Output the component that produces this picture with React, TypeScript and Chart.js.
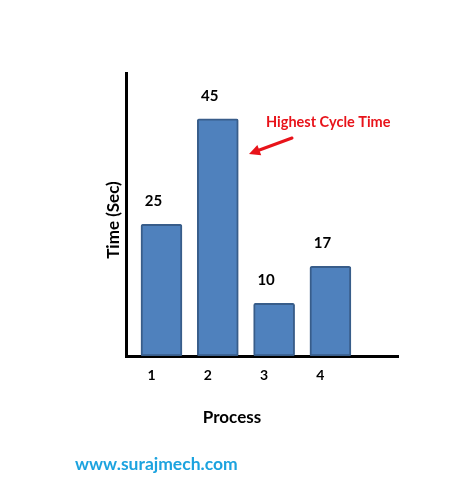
import React, { useEffect, useRef } from 'react';
import { Chart, registerables } from 'chart.js';

Chart.register(...registerables);

// ---- data ----
const processes = [1, 2, 3, 4];
const tickLabels = ['1', '2', '3', '4'];
const cycleTimes = [25, 45, 10, 17];
const yTitle = 'Time (Sec)';
const xTitle = 'Process';
const calloutText = 'Highest Cycle Time';
const websiteText = 'www.surajmech.com';

const FONT = 'Lato, "Open Sans", "DejaVu Sans", sans-serif';

export default function App() {
  const ref = useRef<HTMLCanvasElement>(null);

  useEffect(() => {
    document.body.style.margin = '0';
    const canvas = ref.current;
    if (!canvas) return;

    const overlay = {
      id: 'overlay',
      afterDatasetsDraw(chart: any) {
        const ctx = chart.ctx as CanvasRenderingContext2D;
        const meta = chart.getDatasetMeta(0);
        ctx.save();
        // value labels
        ctx.fillStyle = '#000';
        ctx.font = `bold 15px ${FONT}`;
        ctx.textAlign = 'center';
        ctx.textBaseline = 'middle';
        meta.data.forEach((el: any, i: number) => {
          ctx.fillText(String(cycleTimes[i]), el.x - 8, el.y - 23);
        });
        // y title
        ctx.save();
        ctx.translate(114, 220);
        ctx.rotate(-Math.PI / 2);
        ctx.font = `bold 17px ${FONT}`;
        ctx.fillText(yTitle, 0, 0);
        ctx.restore();
        // x title
        ctx.font = `bold 17px ${FONT}`;
        ctx.fillText(xTitle, 232, 418);
        // website
        ctx.fillStyle = '#1CA3DF';
        ctx.font = `bold 17.5px ${FONT}`;
        ctx.textAlign = 'left';
        ctx.fillText(websiteText, 75, 464);
        // callout
        ctx.fillStyle = '#E8131A';
        ctx.font = `bold 14.5px ${FONT}`;
        ctx.fillText(calloutText, 266, 122);
        // arrow
        const x1 = 292, y1 = 138, x2 = 249, y2 = 154;
        ctx.strokeStyle = '#E8131A';
        ctx.lineWidth = 3;
        ctx.lineCap = 'round';
        ctx.beginPath();
        ctx.moveTo(x1, y1);
        ctx.lineTo(x2 + 5, y2 - 2);
        ctx.stroke();
        const ang = Math.atan2(y2 - y1, x2 - x1);
        const hl = 11, hw = 5.5;
        ctx.beginPath();
        ctx.moveTo(x2, y2);
        ctx.lineTo(x2 - hl * Math.cos(ang) + hw * Math.sin(ang), y2 - hl * Math.sin(ang) - hw * Math.cos(ang));
        ctx.lineTo(x2 - hl * Math.cos(ang) - hw * Math.sin(ang), y2 - hl * Math.sin(ang) + hw * Math.cos(ang));
        ctx.closePath();
        ctx.fillStyle = '#E8131A';
        ctx.fill();
        ctx.restore();
      },
    };

    const chart = new Chart(canvas, {
      type: 'bar',
      data: {
        datasets: [
          {
            data: processes.map((p, i) => ({ x: p, y: cycleTimes[i] })),
            backgroundColor: '#4F81BD',
            borderColor: '#385D8A',
            borderWidth: 2,
            borderRadius: 2,
            borderSkipped: false,
            barThickness: 41,
          },
        ],
      },
      options: {
        responsive: false,
        animation: false,
        devicePixelRatio: 1,
        layout: { padding: { top: 73, right: 73, left: 0, bottom: 0 } },
        plugins: {
          legend: { display: false },
          tooltip: { enabled: false },
        },
        scales: {
          x: {
            type: 'linear',
            offset: false,
            min: 0.37,
            max: 5.2,
            afterBuildTicks: (axis: any) => {
              axis.ticks = processes.map((v) => ({ value: v }));
            },
            afterFit: (s: any) => {
              s.height = 134;
            },
            grid: { display: false, drawTicks: false },
            border: { display: true, width: 3, color: '#000' },
            ticks: {
              color: '#000',
              font: { family: FONT, size: 14, weight: 'bold' },
              padding: 11,
              labelOffset: -10,
              maxRotation: 0,
              autoSkip: false,
              callback: (v: any) => {
                const i = processes.indexOf(Number(v));
                return i >= 0 ? tickLabels[i] : '';
              },
            },
          },
          y: {
            min: 0,
            max: 53.7,
            afterFit: (s: any) => {
              s.width = 126;
            },
            grid: { display: false, drawTicks: false },
            border: { display: true, width: 3, color: '#000' },
            ticks: { display: false },
          },
        },
      },
      plugins: [overlay],
    } as any);

    return () => chart.destroy();
  }, []);

  return <canvas ref={ref} width={471} height={490} style={{ display: 'block' }} />;
}
